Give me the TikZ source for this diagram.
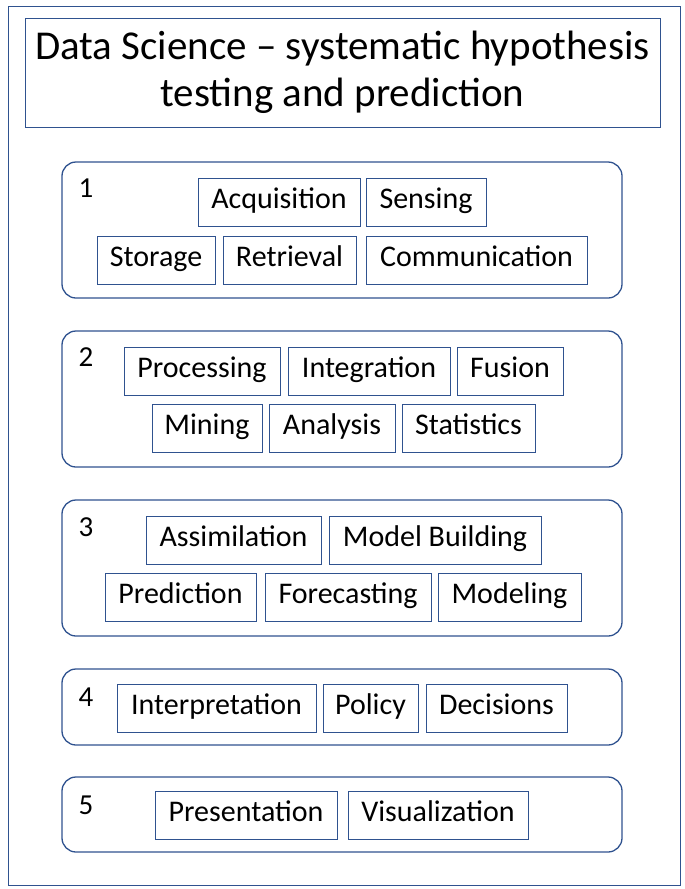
\documentclass[tikz,border=0pt]{standalone}
\usepackage{fontspec}
\setmainfont{Carlito}
\usetikzlibrary{positioning}
\definecolor{frame}{HTML}{2F528F}
\tikzset{%
	group/.style={draw=frame, line width=1.3pt, rounded corners=14pt},
	tag/.style={draw=frame, line width=0.9pt, minimum height=48pt, inner sep=0pt,
		text height=19pt, text depth=6pt, font=\fontsize{30}{36}\selectfont},
	num/.style={font=\fontsize{29}{36}\selectfont}
}
\begin{document}
\begin{tikzpicture}[x=1pt, y=-1pt]
	\useasboundingbox (0,0) rectangle (685,889);
	\draw[frame, line width=1pt] (8,6) rectangle (680,885);
	\node[draw=frame, line width=0.9pt, minimum width=635pt, minimum height=109pt, align=center,
		font=\fontsize{41}{47}\selectfont] (title) at (342.5,72.5)
		{Data Science -- systematic hypothesis\\testing and prediction};

	% groups
	\draw[group] (62,162) rectangle (622,298);
	\draw[group] (62,331) rectangle (622,467);
	\draw[group] (62,500) rectangle (622,636);
	\draw[group] (62,669) rectangle (622,745);
	\draw[group] (62,777) rectangle (622,852);
	\node[num] (n1) at (86,188) {1};
	\node[num] (n2) at (86,357) {2};
	\node[num] (n3) at (86,527) {3};
	\node[num] (n4) at (86,697) {4};
	\node[num] (n5) at (86,805) {5};

	% 1
	\node[tag, minimum width=162pt] (acq) at (279,202) {Acquisition};
	\node[tag, minimum width=120pt] (sen) at (426,202) {Sensing};
	\node[tag, minimum width=118pt] (sto) at (156,260) {Storage};
	\node[tag, minimum width=133pt] (ret) at (289.5,260) {Retrieval};
	\node[tag, minimum width=221pt] (com) at (476.5,260) {Communication};
	% 2
	\node[tag, minimum width=156pt] (pro) at (202,371) {Processing};
	\node[tag, minimum width=162pt] (int) at (369,371) {Integration};
	\node[tag, minimum width=106pt] (fus) at (510,371) {Fusion};
	\node[tag, minimum width=110pt] (min) at (207,428) {Mining};
	\node[tag, minimum width=126pt] (ana) at (332,428) {Analysis};
	\node[tag, minimum width=133pt] (sta) at (468.5,428) {Statistics};
	% 3
	\node[tag, minimum width=175pt] (ass) at (233.5,540) {Assimilation};
	\node[tag, minimum width=212pt] (mod) at (435,540) {Model Building};
	\node[tag, minimum width=151pt] (pre) at (180.5,597) {Prediction};
	\node[tag, minimum width=166pt] (for) at (348,597) {Forecasting};
	\node[tag, minimum width=143pt] (mdl) at (509.5,597) {Modeling};
	% 4
	\node[tag, minimum width=199pt] (inp) at (216.5,708) {Interpretation};
	\node[tag, minimum width=95pt] (pol) at (370.5,708) {Policy};
	\node[tag, minimum width=141pt] (dec) at (496.5,708) {Decisions};
	% 5
	\node[tag, minimum width=182pt] (prs) at (246,815) {Presentation};
	\node[tag, minimum width=180pt] (vis) at (438,815) {Visualization};
\end{tikzpicture}
\end{document}
